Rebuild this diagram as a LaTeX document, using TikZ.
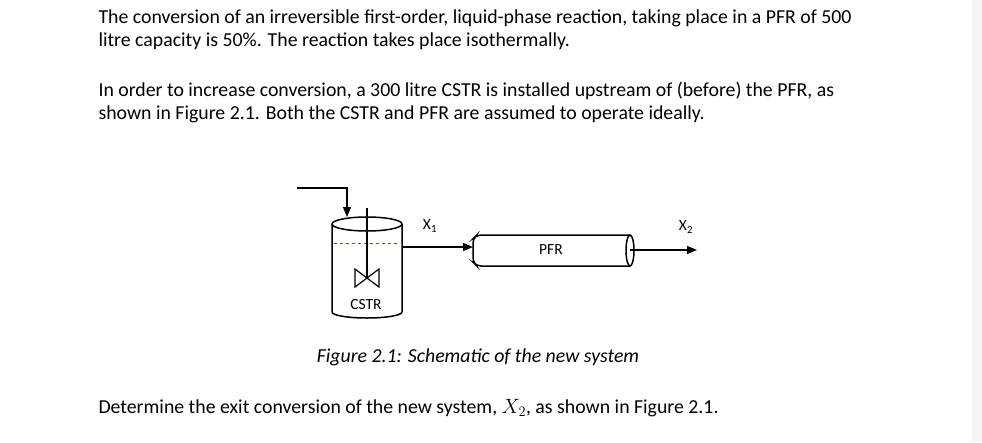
\documentclass[tikz,border=0pt]{standalone}
\usepackage{fontspec}
\setmainfont{Carlito}
\usetikzlibrary{arrows.meta,positioning}
\tikzset{
  body/.style={anchor=west, font=\fontsize{19.8}{23}\selectfont},
  lbl/.style={font=\fontsize{15.5}{17}\selectfont},
  pipe/.style={line width=1.2pt, -{Triangle[length=10pt,width=8pt]}},
  wall/.style={line width=1.5pt}
}
\begin{document}
\begin{tikzpicture}[x=1pt, y=-1pt]
  \useasboundingbox[fill=white] (0,0) rectangle (982,442);
  \fill[gray!8] (972,0) rectangle (982,442);
  % text
  \node[body] (t1) at (95,18) {The conversion of an irreversible first-order, liquid-phase reaction, taking place in a PFR of 500};
  \node[body] (t2) at (95,41) {litre capacity is 50\%. The reaction takes place isothermally.};
  \node[body] (t3) at (95,91) {In order to increase conversion, a 300 litre CSTR is installed upstream of (before) the PFR, as};
  \node[body] (t4) at (95,114) {shown in Figure 2.1. Both the CSTR and PFR are assumed to operate ideally.};
  \node[body] (t5) at (95,408) {Determine the exit conversion of the new system, $X_2$, as shown in Figure 2.1.};
  \node[font=\fontsize{19.8}{22}\selectfont\itshape] (cap) at (478,357) {Figure 2.1: Schematic of the new system};
%
  % CSTR vessel
  \draw[wall] (332,224) -- (332,312) arc[start angle=180, end angle=0, x radius=35, y radius=6] -- (402,224);
  \draw[wall] (367,224) ellipse[x radius=35, y radius=7];
  \draw[dashed, blue!40!gray, line width=1pt] (334,243) -- (400,243);
  \draw[line width=1.2pt] (367,208) -- (367,278);
  \draw[line width=1.2pt] (355,269) -- (379,287) -- (379,269) -- (355,287) -- cycle;
  \node[lbl] (cstr) at (366,305) {CSTR};
  \coordinate (feed0) at (297,188);
  \coordinate (feed1) at (347,188);
  \coordinate (feed2) at (347,217);
  \draw[pipe] (feed0) -- (feed1) -- (feed2);
%
  % PFR
  \draw[wall, rounded corners=4pt] (630,235) -- (477,235) -- (473,239) -- (473,262) -- (477,266) -- (630,266);
  \draw[wall] (630,250.5) ellipse[x radius=4, y radius=15.5];
  \node[lbl] (pfr) at (551,250) {PFR};
  \coordinate (cout) at (402,247);
  \coordinate (pin) at (473,247);
  \coordinate (pout) at (630,250);
  \coordinate (exit) at (697,250);
  \draw[pipe] (cout) -- (pin);
  \draw[pipe] (pout) -- (exit);
  \node[lbl] (x1) at (430,226) {X\textsubscript{1}};
  \node[lbl] (x2) at (686,227) {X\textsubscript{2}};
\end{tikzpicture}
\end{document}
